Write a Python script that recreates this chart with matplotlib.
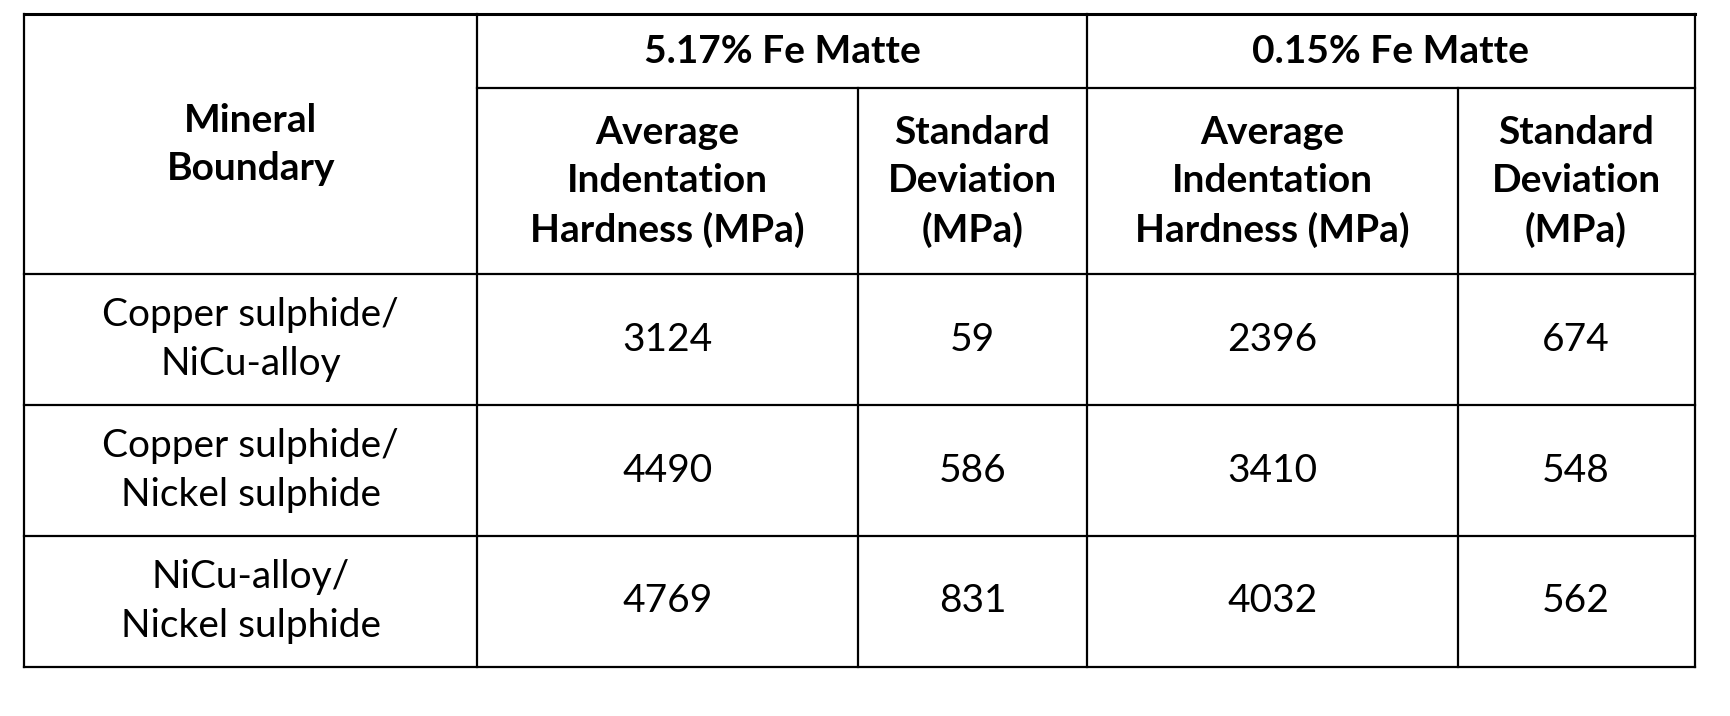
import matplotlib
matplotlib.use("Agg")
import matplotlib.pyplot as plt

group_headers = ["5.17% Fe Matte", "0.15% Fe Matte"]
sub_headers = ["Average\nIndentation\nHardness (MPa)", "Standard\nDeviation\n(MPa)",
               "Average\nIndentation\nHardness (MPa)", "Standard\nDeviation\n(MPa)"]
row_labels = ["Copper sulphide/\nNiCu-alloy", "Copper sulphide/\nNickel sulphide",
              "NiCu-alloy/\nNickel sulphide"]
avg_517 = [3124, 4490, 4769]
sd_517 = [59, 586, 831]
avg_015 = [2396, 3410, 4032]
sd_015 = [674, 548, 562]

fig = plt.figure(figsize=(17.31, 7.16), dpi=100)
ax = fig.add_axes([0, 0, 1, 1])
ax.set_xlim(0, 1); ax.set_ylim(1, 0); ax.axis("off")

xs = [0.0141, 0.2755, 0.4955, 0.628, 0.842, 0.979]
ys = [0.020, 0.123, 0.383, 0.566, 0.749, 0.931]
lw = 1.6
fam = ["Lato", "DejaVu Sans"]
fs = 28
ls = 1.45

for y in [ys[0], ys[2], ys[3], ys[4], ys[5]]:
    ax.plot([xs[0], xs[-1]], [y, y], color="black", lw=2.2 if y == ys[0] else lw)
ax.plot([xs[1], xs[-1]], [ys[1], ys[1]], color="black", lw=lw)
for i, x in enumerate(xs):
    if i in (2, 4):
        ax.plot([x, x], [ys[1], ys[-1]], color="black", lw=lw)
    else:
        ax.plot([x, x], [ys[0], ys[-1]], color="black", lw=lw)

def cx(i): return (xs[i] + xs[i + 1]) / 2

ax.text(cx(0), (ys[0] + ys[2]) / 2, "Mineral\nBoundary", ha="center", va="center",
        fontsize=fs, fontweight="bold", family=fam, linespacing=ls)
ax.text((xs[1] + xs[3]) / 2, (ys[0] + ys[1]) / 2, group_headers[0], ha="center", va="center",
        fontsize=fs, fontweight="bold", family=fam)
ax.text((xs[3] + xs[5]) / 2, (ys[0] + ys[1]) / 2, group_headers[1], ha="center", va="center",
        fontsize=fs, fontweight="bold", family=fam)
for j, h in enumerate(sub_headers):
    ax.text(cx(j + 1), (ys[1] + ys[2]) / 2, h, ha="center", va="center",
            fontsize=fs, fontweight="bold", family=fam, linespacing=ls)

for r in range(3):
    yc = (ys[r + 2] + ys[r + 3]) / 2
    ax.text(cx(0), yc, row_labels[r], ha="center", va="center", fontsize=fs,
            family=fam, linespacing=ls)
    for j, v in enumerate([avg_517[r], sd_517[r], avg_015[r], sd_015[r]]):
        ax.text(cx(j + 1), yc, str(v), ha="center", va="center", fontsize=fs, family=fam)

fig.savefig("out.png", dpi=100, facecolor="white")
